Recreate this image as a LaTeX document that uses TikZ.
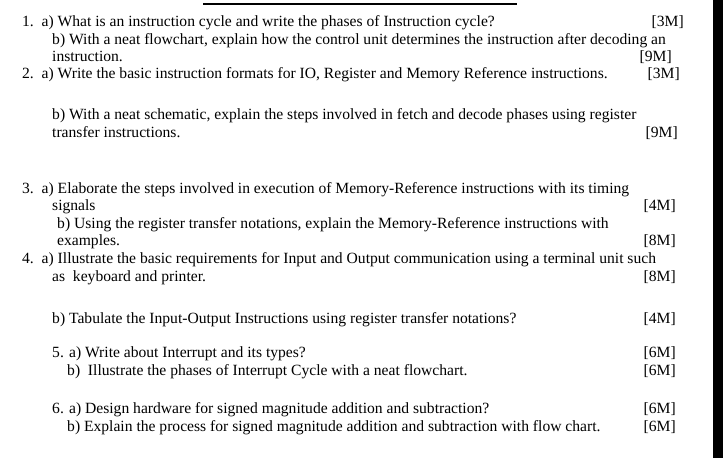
\documentclass[tikz,border=0pt]{standalone}
\usepackage{fontspec}
\setmainfont{Liberation Serif}
\begin{document}
\begin{tikzpicture}[x=1pt,y=-1pt,
 L/.style={anchor=base west,inner sep=0pt,font=\fontsize{15.6}{17}\selectfont},
 R/.style={anchor=base east,inner sep=0pt,font=\fontsize{15.6}{17}\selectfont}]
\useasboundingbox (0,0) rectangle (723,458);
\fill[white] (0,0) rectangle (723,458);
\draw[line width=2pt] (203,4) -- (517,4);
\fill[black] (713,0) rectangle (723,458);
\node[L] (t1) at (22,26) {1.\ \ a) What is an instruction cycle and write the phases of Instruction cycle?};
\node[R] (m1) at (684,26) {[3M]};
\node[L] (t2) at (52,44) {b) With a neat flowchart, explain how the control unit determines the instruction after decoding an};
\node[L] (t3) at (52,61) {instruction.};
\node[R] (m2) at (672,61) {[9M]};
\node[L] (t4) at (22,78) {2.\ \ a) Write the basic instruction formats for IO, Register and Memory Reference instructions.};
\node[R] (m3) at (680,78) {[3M]};
\node[L] (t5) at (52,119) {b) With a neat schematic, explain the steps involved in fetch and decode phases using register};
\node[L] (t6) at (52,137) {transfer instructions.};
\node[R] (m4) at (678,137) {[9M]};
\node[L] (t7) at (22,193) {3.\ \ a) Elaborate the steps involved in execution of Memory-Reference instructions with its timing};
\node[L] (t8) at (52,210) {signals};
\node[R] (m5) at (676,210) {[4M]};
\node[L] (t9) at (57,228) {b) Using the register transfer notations, explain the Memory-Reference instructions with};
\node[L] (t10) at (57,245) {examples.};
\node[R] (m6) at (676,245) {[8M]};
\node[L] (t11) at (22,263) {4.\ \ a) Illustrate the basic requirements for Input and Output communication using a terminal unit such};
\node[L] (t12) at (52,281) {as\ \ keyboard and printer.};
\node[R] (m7) at (676,281) {[8M]};
\node[L] (t13) at (52,323) {b) Tabulate the Input-Output Instructions using register transfer notations?};
\node[R] (m8) at (676,323) {[4M]};
\node[L] (t14) at (52,357) {5. a) Write about Interrupt and its types?};
\node[R] (m9) at (676,357) {[6M]};
\node[L] (t15) at (67,375) {b)\ \ Illustrate the phases of Interrupt Cycle with a neat flowchart.};
\node[R] (m10) at (676,375) {[6M]};
\node[L] (t16) at (52,413) {6. a) Design hardware for signed magnitude addition and subtraction?};
\node[R] (m11) at (676,413) {[6M]};
\node[L] (t17) at (67,431) {b) Explain the process for signed magnitude addition and subtraction with flow chart.};
\node[R] (m12) at (676,431) {[6M]};
\end{tikzpicture}
\end{document}
